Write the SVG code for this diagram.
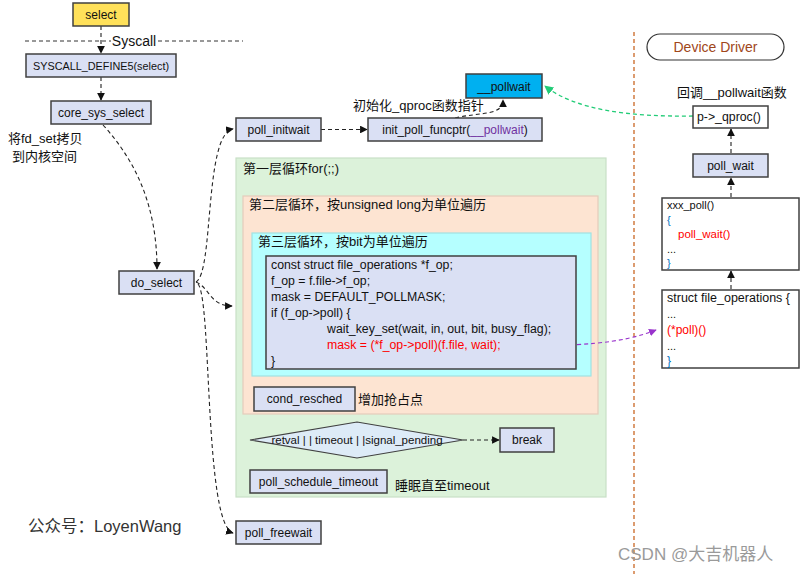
<svg xmlns="http://www.w3.org/2000/svg" width="805" height="574" viewBox="0 0 805 574">
<style>
text{font-family:"Liberation Sans","Noto Sans CJK SC",sans-serif;fill:#111}
.n{fill:#DAE0F4;stroke:#404040;stroke-width:1.5}
.w{fill:#fff;stroke:#404040;stroke-width:1.5}
.l{font-size:12px;text-anchor:middle}
.c{font-size:12.3px}
.cj{font-size:13px}
.e{stroke:#222;stroke-width:1.1;stroke-dasharray:4,3;fill:none;marker-end:url(#ah)}
.red{fill:#FF0000}
.blue{fill:#0070C0}
</style>
<defs>
<marker id="ah" viewBox="0 0 10 10" refX="9" refY="5" markerWidth="7" markerHeight="7" orient="auto"><path d="M0,0 L10,5 L0,10 z" fill="#111"/></marker>
<marker id="ahg" viewBox="0 0 10 10" refX="9" refY="5" markerWidth="7" markerHeight="7" orient="auto"><path d="M0,0 L10,5 L0,10 z" fill="#22CC77"/></marker>
<marker id="ahp" viewBox="0 0 10 10" refX="9" refY="5" markerWidth="7" markerHeight="7" orient="auto"><path d="M0,0 L10,5 L0,10 z" fill="#9933CC"/></marker>
</defs>
<rect width="805" height="574" fill="#fff"/>

<!-- Syscall divider -->
<g id="syscall-line">
<line x1="25" y1="41" x2="243" y2="41" stroke="#333" stroke-dasharray="4,3"/>
<rect x="111" y="32" width="46" height="17" fill="#fff"/>
<text x="134" y="46" style="font-size:14px;text-anchor:middle">Syscall</text>
</g>

<!-- containers -->
<g id="loop1">
<rect x="236" y="158" width="370" height="339" fill="#DCF2DA" stroke="#C9DFC7" stroke-width="1.2"/>
<text x="243" y="173" class="cj">第一层循环for(;;)</text>
</g>
<g id="loop2">
<rect x="243" y="196" width="355" height="218" fill="#FDE4D2" stroke="#E4CCBB" stroke-width="1.2"/>
<text x="249" y="209" class="cj">第二层循环，按unsigned long为单位遍历</text>
</g>
<g id="loop3">
<rect x="252" y="233" width="339" height="143" fill="#B5FFFF" stroke="#A2E2E2" stroke-width="1.2"/>
<text x="258" y="246" class="cj">第三层循环，按bit为单位遍历</text>
</g>

<!-- right lane -->
<line x1="634" y1="32" x2="634" y2="574" stroke="#C55A11" stroke-width="1.2" stroke-dasharray="4,3"/>

<!-- connectors -->
<g id="connectors">
<path class="e" d="M101,26 L101,53"/>
<path class="e" d="M101,77 L101,100"/>
<path class="e" d="M103,125 C135,160 157,205 157,269"/>
<path class="e" d="M196,282 C214,272 204,134 233,129"/>
<path class="e" d="M196,282 C210,288 210,306 232,306"/>
<path class="e" d="M198,284 C212,300 204,524 233,533"/>
<path class="e" d="M321,129.5 L367,129.5"/>
<path class="e" d="M455,118 C480,112 503,116 503,100"/>
<path class="e" d="M463,440 L499,440"/>
<path class="e" d="M731,153 L731,129"/>
<path class="e" d="M731,197 L731,178"/>
<path class="e" d="M731,289 L731,271"/>
<path d="M693,116 C630,117 575,110 545,86" fill="none" stroke="#22CC77" stroke-width="1.3" stroke-dasharray="4,3" marker-end="url(#ahg)"/>
<path d="M507,346 C580,346 620,344 656,330" fill="none" stroke="#9933CC" stroke-width="1.1" stroke-dasharray="4,3" marker-end="url(#ahp)"/>
</g>

<!-- nodes -->
<g id="select">
<rect x="73" y="3" width="56" height="23" fill="#FFE15A" stroke="#404040" stroke-width="1.5"/>
<text x="101" y="19" class="l">select</text>
</g>
<g id="syscall-define5">
<rect x="26" y="54" width="150" height="23" class="n"/>
<text x="101" y="70" class="l" style="font-size:11px" textLength="136" lengthAdjust="spacingAndGlyphs">SYSCALL_DEFINE5(select)</text>
</g>
<g id="core-sys-select">
<rect x="51" y="101" width="100" height="23" class="n"/>
<text x="101" y="117" class="l">core_sys_select</text>
</g>
<g id="note-copy">
<text x="8" y="143" class="cj">将fd_set拷贝</text>
<text x="12" y="161" class="cj">到内核空间</text>
</g>
<g id="do-select">
<rect x="119" y="271" width="75" height="23" class="n"/>
<text x="156.5" y="287" class="l">do_select</text>
</g>
<g id="poll-initwait">
<rect x="236" y="118" width="85" height="23" class="n"/>
<text x="278.5" y="134" class="l">poll_initwait</text>
</g>
<g id="init-poll-funcptr">
<rect x="368" y="118" width="174" height="23" class="n"/>
<text x="455" y="134" class="l">init_poll_funcptr(<tspan fill="#7030A0">__pollwait</tspan>)</text>
</g>
<g id="note-init">
<text x="353" y="110" class="cj">初始化_qproc函数指针</text>
</g>
<g id="pollwait">
<rect x="466" y="74" width="76" height="24" fill="#00B0F0" stroke="#404040" stroke-width="1.5"/>
<text x="504" y="91" class="l">__pollwait</text>
</g>
<g id="code-box">
<rect x="266" y="256" width="310" height="113" fill="#DAE0F4" stroke="#404040" stroke-width="1.5"/>
<text x="271" y="269" class="c">const struct file_operations *f_op;</text>
<text x="271" y="285" class="c">f_op = f.file-&gt;f_op;</text>
<text x="271" y="301" class="c">mask = DEFAULT_POLLMASK;</text>
<text x="271" y="317" class="c">if (f_op-&gt;poll) {</text>
<text x="327" y="333" class="c">wait_key_set(wait, in, out, bit, busy_flag);</text>
<text x="327" y="349" class="c red">mask = (*f_op-&gt;poll)(f.file, wait);</text>
<text x="271" y="365" class="c">}</text>
</g>
<g id="cond-resched">
<rect x="254" y="387" width="101" height="24" class="n"/>
<text x="304.5" y="403" class="l">cond_resched</text>
<text x="358" y="404" class="cj">增加抢占点</text>
</g>
<g id="condition">
<polygon points="250,440 357,422 463,440 357,458" fill="#DDEBF7" stroke="#404040" stroke-width="1.2"/>
<text x="357" y="444" class="l" style="font-size:11.5px">retval | | timeout | |signal_pending</text>
</g>
<g id="break">
<rect x="500" y="428" width="54" height="24" class="n"/>
<text x="527" y="444" class="l">break</text>
</g>
<g id="poll-schedule-timeout">
<rect x="250" y="470" width="137" height="23" class="n"/>
<text x="318.5" y="486" class="l">poll_schedule_timeout</text>
<text x="395" y="490" class="cj">睡眠直至timeout</text>
</g>
<g id="poll-freewait">
<rect x="236" y="521" width="85" height="23" class="n"/>
<text x="278.5" y="537" class="l">poll_freewait</text>
</g>
<g id="device-driver">
<rect x="647" y="34" width="137" height="26" rx="13" fill="#fff" stroke="#333" stroke-width="1.2"/>
<text x="715.5" y="52" style="font-size:14px;text-anchor:middle;fill:#A0461A">Device Driver</text>
</g>
<g id="qproc">
<text x="677" y="97" class="cj">回调__pollwait函数</text>
<rect x="693" y="106" width="75" height="22" class="w"/>
<text x="697" y="121" class="c">p-&gt;_qproc()</text>
</g>
<g id="poll-wait">
<rect x="693" y="154" width="75" height="23" class="n"/>
<text x="730.5" y="170" class="l">poll_wait</text>
</g>
<g id="xxx-poll">
<rect x="662" y="198" width="137" height="72" class="w"/>
<text x="667" y="209" style="font-size:11px">xxx_poll()</text>
<text x="667" y="224" class="blue" style="font-size:11px">{</text>
<text x="678" y="238" class="red" style="font-size:11.5px">poll_wait()</text>
<text x="667" y="253" style="font-size:11px">...</text>
<text x="667" y="267" class="blue" style="font-size:11px">}</text>
</g>
<g id="file-operations">
<rect x="662" y="290" width="137" height="78" class="w"/>
<text x="667" y="302" style="font-size:12.5px">struct file_operations {</text>
<text x="667" y="318" style="font-size:11px">...</text>
<text x="667" y="334" class="red" style="font-size:12px">(*poll)()</text>
<text x="667" y="350" style="font-size:11px">...</text>
<text x="667" y="365" class="blue" style="font-size:12px">}</text>
</g>
<g id="credits">
<text x="28" y="532" style="font-size:16.5px;fill:#333">公众号：LoyenWang</text>
<text x="618" y="560" style="font-size:17px;fill:#9a9a9a">CSDN @大吉机器人</text>
</g>
</svg>
